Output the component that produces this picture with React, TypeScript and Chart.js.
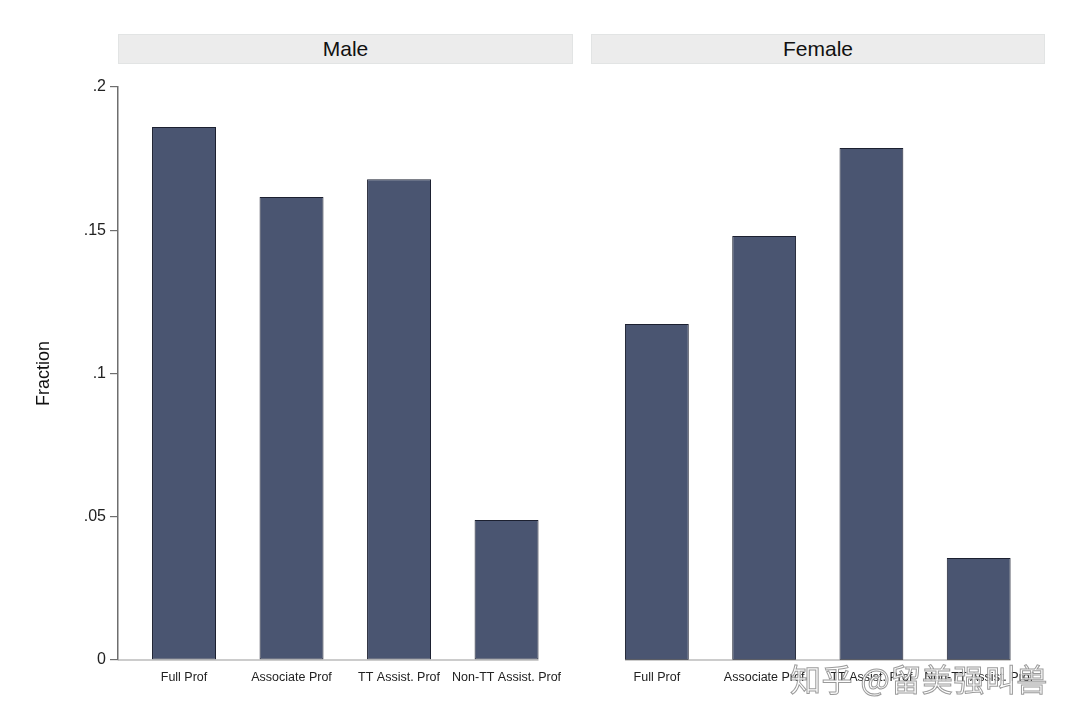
import React, { useEffect, useRef } from "react";
import { Chart, registerables } from "chart.js";

Chart.register(...registerables);

const categories = ["Full Prof", "Associate Prof", "TT Assist. Prof", "Non-TT Assist. Prof"];
const maleValues = [0.186, 0.1616, 0.1678, 0.0489];
const femaleValues = [0.1173, 0.148, 0.1787, 0.0356];
const yTickValues = [0, 0.05, 0.1, 0.15, 0.2];
const yTickLabels = ["0", ".05", ".1", ".15", ".2"];
const panelTitles = ["Male", "Female"];
const yAxisTitle = "Fraction";
const watermark = "知乎 @留美强叫兽";

const FONT = "'Liberation Sans', Arial, sans-serif";
const BAR_FILL = "#4a5571";
const BAR_EDGE = "#1c2030";
const AXIS_GRAY = "#6e6e6e";

const baselinePlugin = {
  id: "baseline",
  afterDatasetsDraw(chart: any, _args: any, opts: any) {
    const meta = chart.getDatasetMeta(0);
    if (!meta || !meta.data.length) return;
    const y = chart.scales.y.getPixelForValue(0);
    const first = meta.data[0];
    const last = meta.data[meta.data.length - 1];
    const x0 = opts.fromAxis ? chart.chartArea.left : first.x - first.width / 2;
    const x1 = last.x + last.width / 2;
    const ctx = chart.ctx;
    ctx.save();
    ctx.strokeStyle = "#9a9a9a";
    ctx.lineWidth = 1.2;
    ctx.beginPath();
    ctx.moveTo(x0, y);
    ctx.lineTo(x1, y);
    ctx.stroke();
    ctx.restore();
  },
};

function makeConfig(values: number[], showY: boolean, padding: any) {
  return {
    type: "bar" as const,
    data: {
      datasets: [
        {
          data: values.map((v, i) => ({ x: i, y: v })),
          backgroundColor: BAR_FILL,
          borderColor: BAR_EDGE,
          borderWidth: 1,
          borderSkipped: false,
          barPercentage: 0.595,
          categoryPercentage: 1,
        },
      ],
    },
    plugins: [baselinePlugin],
    options: {
      animation: false as const,
      responsive: false,
      maintainAspectRatio: false,
      layout: { padding },
      plugins: {
        legend: { display: false },
        tooltip: { enabled: false },
        baseline: { fromAxis: showY },
      },
      scales: {
        x: {
          type: "linear" as const,
          offset: false,
          min: -0.614,
          max: 3.618,
          afterBuildTicks(scale: any) {
            scale.ticks = categories.map((_, i) => ({ value: i }));
          },
          afterFit(scale: any) {
            scale.height = 60;
          },
          grid: { display: false },
          border: { display: false },
          ticks: {
            autoSkip: false,
            maxRotation: 0,
            minRotation: 0,
            padding: 2,
            color: "#222",
            font: { family: FONT, size: 12.5 },
            callback: (v: any) => categories[v] ?? "",
          },
        },
        y: {
          display: showY,
          min: 0,
          max: 0.2,
          afterBuildTicks(scale: any) {
            scale.ticks = yTickValues.map((v) => ({ value: v }));
          },
          afterFit(scale: any) {
            scale.width = showY ? 118 : 0;
          },
          grid: {
            drawOnChartArea: false,
            drawTicks: true,
            tickLength: 8,
            color: AXIS_GRAY,
            lineWidth: 1.2,
          },
          border: { display: true, color: AXIS_GRAY, width: 1.5 },
          ticks: {
            padding: 4,
            color: "#222",
            font: { family: FONT, size: 16 },
            callback: (v: any) => {
              const idx = yTickValues.findIndex((t) => Math.abs(t - v) < 1e-9);
              return idx >= 0 ? yTickLabels[idx] : "";
            },
          },
          title: {
            display: true,
            text: yAxisTitle,
            color: "#111",
            font: { family: FONT, size: 18 },
            padding: { top: 33, bottom: 0 },
          },
        },
      },
    },
  };
}

function Panel({ values, showY, left, width, padding }: any) {
  const ref = useRef<HTMLCanvasElement | null>(null);
  useEffect(() => {
    if (!ref.current) return;
    const chart = new Chart(ref.current, makeConfig(values, showY, padding) as any);
    return () => chart.destroy();
  }, []);
  return (
    <canvas
      ref={ref}
      width={width}
      height={720}
      style={{ position: "absolute", left, top: 0, width, height: 720 }}
    />
  );
}

function Header({ text, left, width }: any) {
  return (
    <div
      style={{
        position: "absolute",
        left,
        top: 34,
        width,
        height: 30,
        boxSizing: "border-box",
        background: "#ececec",
        border: "1px solid #e2e4e4",
        fontFamily: FONT,
        fontSize: 21,
        color: "#111",
        display: "flex",
        alignItems: "center",
        justifyContent: "center",
      }}
    >
      {text}
    </div>
  );
}

export default function App() {
  return (
    <div
      style={{
        position: "absolute",
        left: 0,
        top: 0,
        width: 1080,
        height: 720,
        background: "#fff",
        overflow: "hidden",
      }}
    >
      <Header text={panelTitles[0]} left={118} width={455} />
      <Header text={panelTitles[1]} left={591} width={454} />
      <Panel values={maleValues} showY={true} left={0} width={590} padding={{ top: 87, right: 17, left: 0, bottom: 0 }} />
      <Panel values={femaleValues} showY={false} left={590} width={490} padding={{ top: 87, right: 35, left: 1, bottom: 0 }} />
      <div
        style={{
          position: "absolute",
          left: 790,
          top: 655,
          fontFamily: "'Noto Sans CJK SC', sans-serif",
          fontSize: 31,
          color: "rgba(255,255,255,0.85)",
          WebkitTextStroke: "1px rgba(120,120,120,0.75)",
          letterSpacing: 0.5,
          whiteSpace: "nowrap",
        }}
      >
        {watermark}
      </div>
    </div>
  );
}
